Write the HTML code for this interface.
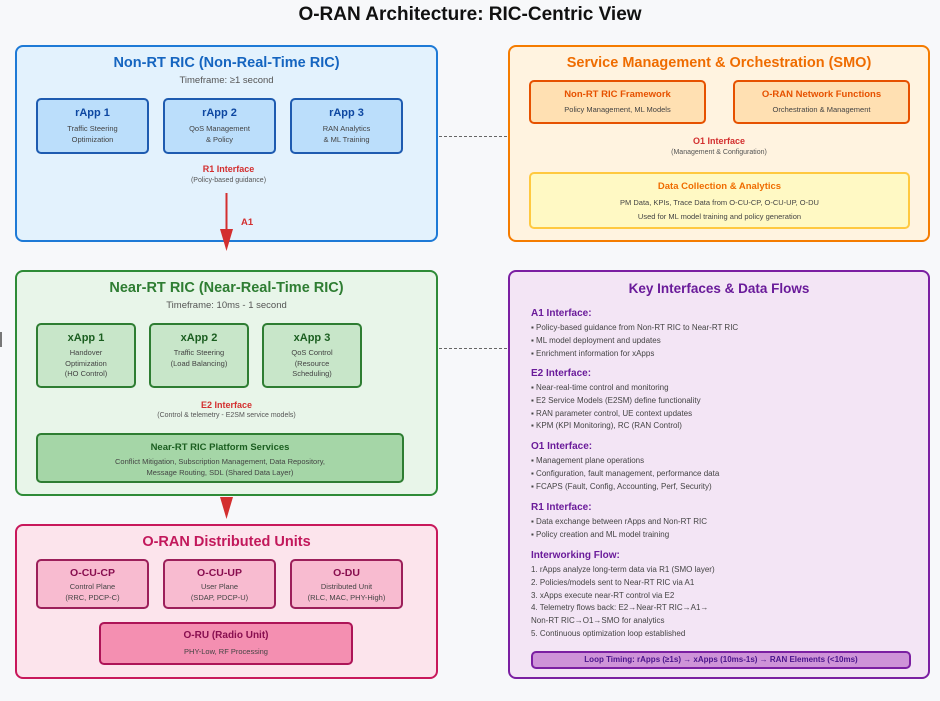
<!DOCTYPE html>
<html><head><meta charset="utf-8"><style>
*{margin:0;padding:0;box-sizing:border-box}
body{width:940px;height:701px;background:#f7f8fa;font-family:"Liberation Sans",sans-serif;position:relative;overflow:hidden}
.a{position:absolute}
.t{position:absolute;left:0;right:0;text-align:center;white-space:nowrap}
.box{position:absolute;border-radius:8px}
.sub{position:absolute;border-radius:5px}
.d{color:#444;font-size:7.5px;line-height:11px}
.h{font-weight:bold}
.kp{position:absolute;left:21px;font-size:8px;color:#444;white-space:nowrap}
.kh{position:absolute;left:21px;font-size:10px;font-weight:bold;color:#6a1b9a}
</style></head><body>
<div class="t h" style="top:4px;font-size:19px;color:#111">O-RAN Architecture: RIC-Centric View</div>

<!-- Non-RT RIC -->
<div class="box" style="left:15px;top:45px;width:423px;height:197px;background:#e3f2fd;border:2px solid #1e7ad6">
 <div class="t h" style="top:8px;font-size:14.5px;color:#1565c0">Non-RT RIC (Non-Real-Time RIC)</div>
 <div class="t" style="top:28px;font-size:9.5px;color:#555">Timeframe: ≥1 second</div>
 <div class="sub" style="left:19px;top:51px;width:113px;height:56px;background:#bbdefb;border:2px solid #1e5bb0"><div class="t h" style="top:7px;font-size:11px;color:#0d47a1">rApp 1</div><div class="t d" style="top:23px">Traffic Steering<br>Optimization</div></div>
 <div class="sub" style="left:146px;top:51px;width:113px;height:56px;background:#bbdefb;border:2px solid #1e5bb0"><div class="t h" style="top:7px;font-size:11px;color:#0d47a1">rApp 2</div><div class="t d" style="top:23px">QoS Management<br>&amp; Policy</div></div>
 <div class="sub" style="left:273px;top:51px;width:113px;height:56px;background:#bbdefb;border:2px solid #1e5bb0"><div class="t h" style="top:7px;font-size:11px;color:#0d47a1">rApp 3</div><div class="t d" style="top:23px">RAN Analytics<br>&amp; ML Training</div></div>
 <div class="a h" style="left:0;width:423px;top:117px;text-align:center;font-size:9px;color:#d32f2f">R1 Interface</div>
 <div class="a" style="left:0;width:423px;top:130px;text-align:center;font-size:7px;color:#555">(Policy-based guidance)</div>
</div>

<!-- SMO -->
<div class="box" style="left:508px;top:45px;width:422px;height:197px;background:#fff3e0;border:2px solid #f57c00">
 <div class="t h" style="top:8px;font-size:14.5px;color:#ef6c00">Service Management &amp; Orchestration (SMO)</div>
 <div class="sub" style="left:19px;top:33px;width:177px;height:44px;background:#ffe0b2;border:2px solid #e65100"><div class="t h" style="top:7px;font-size:9.5px;color:#e65100">Non-RT RIC Framework</div><div class="t d" style="top:22px">Policy Management, ML Models</div></div>
 <div class="sub" style="left:223px;top:33px;width:177px;height:44px;background:#ffe0b2;border:2px solid #e65100"><div class="t h" style="top:7px;font-size:9.5px;color:#e65100">O-RAN Network Functions</div><div class="t d" style="top:22px">Orchestration &amp; Management</div></div>
 <div class="t h" style="top:89px;font-size:9px;color:#d32f2f">O1 Interface</div>
 <div class="t" style="top:102px;font-size:7px;color:#555">(Management &amp; Configuration)</div>
 <div class="sub" style="left:19px;top:125px;width:381px;height:57px;background:#fff9c4;border:2px solid #ffc940"><div class="t h" style="top:7px;font-size:9.5px;color:#ef6c00">Data Collection &amp; Analytics</div><div class="t d" style="top:22px;line-height:14px">PM Data, KPIs, Trace Data from O-CU-CP, O-CU-UP, O-DU<br>Used for ML model training and policy generation</div></div>
</div>

<!-- dashed connectors -->
<div class="a" style="left:439px;top:136px;width:68px;border-top:1.5px dashed #666"></div>
<div class="a" style="left:439px;top:348px;width:68px;border-top:1.5px dashed #666"></div>
<div class="a" style="left:0;top:332px;width:2px;height:15px;background:#777"></div>

<!-- Near-RT RIC -->
<div class="box" style="left:15px;top:270px;width:423px;height:226px;background:#e8f5e9;border:2px solid #2e8b37">
 <div class="t h" style="top:8px;font-size:14.5px;color:#2e7d32">Near-RT RIC (Near-Real-Time RIC)</div>
 <div class="t" style="top:28px;font-size:9.5px;color:#555">Timeframe: 10ms - 1 second</div>
 <div class="sub" style="left:19px;top:51px;width:100px;height:65px;background:#c8e6c9;border:2px solid #2e7d32"><div class="t h" style="top:7px;font-size:11px;color:#1b5e20">xApp 1</div><div class="t d" style="top:23px;line-height:10.5px">Handover<br>Optimization<br>(HO Control)</div></div>
 <div class="sub" style="left:132px;top:51px;width:100px;height:65px;background:#c8e6c9;border:2px solid #2e7d32"><div class="t h" style="top:7px;font-size:11px;color:#1b5e20">xApp 2</div><div class="t d" style="top:23px;line-height:10.5px">Traffic Steering<br>(Load Balancing)</div></div>
 <div class="sub" style="left:245px;top:51px;width:100px;height:65px;background:#c8e6c9;border:2px solid #2e7d32"><div class="t h" style="top:7px;font-size:11px;color:#1b5e20">xApp 3</div><div class="t d" style="top:23px;line-height:10.5px">QoS Control<br>(Resource<br>Scheduling)</div></div>
 <div class="t h" style="top:128px;font-size:9px;color:#d32f2f">E2 Interface</div>
 <div class="t" style="top:140px;font-size:7px;color:#555">(Control &amp; telemetry - E2SM service models)</div>
 <div class="sub" style="left:19px;top:161px;width:368px;height:50px;background:#a5d6a7;border:2px solid #2e7d32"><div class="t h" style="top:7px;font-size:9.5px;color:#1b5e20">Near-RT RIC Platform Services</div><div class="t d" style="top:22px;line-height:10.5px">Conflict Mitigation, Subscription Management, Data Repository,<br>Message Routing, SDL (Shared Data Layer)</div></div>
</div>

<!-- arrows -->
<svg class="a" style="left:0;top:0" width="940" height="701">
 <line x1="226.5" y1="193" x2="226.5" y2="232" stroke="#d32f2f" stroke-width="2"/>
 <polygon points="220,229 233,229 226.5,251" fill="#d32f2f"/>
 <text x="241" y="225" font-family="Liberation Sans" font-weight="bold" font-size="9.5" fill="#d32f2f">A1</text>
 <polygon points="220,497 233,497 226.5,519" fill="#d32f2f"/>
</svg>

<!-- Distributed units -->
<div class="box" style="left:15px;top:524px;width:423px;height:155px;background:#fce4ec;border:2px solid #c8185b">
 <div class="t h" style="top:8px;font-size:14.5px;color:#c2185b">O-RAN Distributed Units</div>
 <div class="sub" style="left:19px;top:33px;width:113px;height:50px;background:#f8bbd0;border:2px solid #9c1f5a"><div class="t h" style="top:6px;font-size:10.5px;color:#880e4f">O-CU-CP</div><div class="t d" style="top:21px;line-height:10.5px">Control Plane<br>(RRC, PDCP-C)</div></div>
 <div class="sub" style="left:146px;top:33px;width:113px;height:50px;background:#f8bbd0;border:2px solid #9c1f5a"><div class="t h" style="top:6px;font-size:10.5px;color:#880e4f">O-CU-UP</div><div class="t d" style="top:21px;line-height:10.5px">User Plane<br>(SDAP, PDCP-U)</div></div>
 <div class="sub" style="left:273px;top:33px;width:113px;height:50px;background:#f8bbd0;border:2px solid #9c1f5a"><div class="t h" style="top:6px;font-size:10.5px;color:#880e4f">O-DU</div><div class="t d" style="top:21px;line-height:10.5px">Distributed Unit<br>(RLC, MAC, PHY-High)</div></div>
 <div class="sub" style="left:82px;top:96px;width:254px;height:43px;background:#f48fb1;border:2px solid #ad1457"><div class="t h" style="top:6px;font-size:10px;color:#880e4f">O-RU (Radio Unit)</div><div class="t d" style="top:22px">PHY-Low, RF Processing</div></div>
</div>

<!-- Key interfaces -->
<div class="box" style="left:508px;top:270px;width:422px;height:409px;background:#f3e5f5;border:2px solid #7b1fa2">
 <div class="t h" style="top:9px;font-size:13.5px;color:#6a1b9a">Key Interfaces &amp; Data Flows</div>
 <div class="kh" style="top:36px">A1 Interface:</div>
 <div class="kp" style="top:51px">▪ Policy-based guidance from Non-RT RIC to Near-RT RIC</div>
 <div class="kp" style="top:64px">▪ ML model deployment and updates</div>
 <div class="kp" style="top:77px">▪ Enrichment information for xApps</div>
 <div class="kh" style="top:96px">E2 Interface:</div>
 <div class="kp" style="top:111px">▪ Near-real-time control and monitoring</div>
 <div class="kp" style="top:124px">▪ E2 Service Models (E2SM) define functionality</div>
 <div class="kp" style="top:137px">▪ RAN parameter control, UE context updates</div>
 <div class="kp" style="top:149px">▪ KPM (KPI Monitoring), RC (RAN Control)</div>
 <div class="kh" style="top:169px">O1 Interface:</div>
 <div class="kp" style="top:184px">▪ Management plane operations</div>
 <div class="kp" style="top:197px">▪ Configuration, fault management, performance data</div>
 <div class="kp" style="top:210px">▪ FCAPS (Fault, Config, Accounting, Perf, Security)</div>
 <div class="kh" style="top:230px">R1 Interface:</div>
 <div class="kp" style="top:245px">▪ Data exchange between rApps and Non-RT RIC</div>
 <div class="kp" style="top:258px">▪ Policy creation and ML model training</div>
 <div class="kh" style="top:278px">Interworking Flow:</div>
 <div class="kp" style="top:293px">1. rApps analyze long-term data via R1 (SMO layer)</div>
 <div class="kp" style="top:306px">2. Policies/models sent to Near-RT RIC via A1</div>
 <div class="kp" style="top:319px">3. xApps execute near-RT control via E2</div>
 <div class="kp" style="top:331px">4. Telemetry flows back: E2→Near-RT RIC→A1→</div>
 <div class="kp" style="top:344px">Non-RT RIC→O1→SMO for analytics</div>
 <div class="kp" style="top:357px">5. Continuous optimization loop established</div>
 <div class="sub" style="left:21px;top:379px;width:380px;height:18px;background:#ce93d8;border:2px solid #7b1fa2"><div class="t h" style="top:2px;font-size:8px;color:#4a148c">Loop Timing: rApps (≥1s) → xApps (10ms-1s) → RAN Elements (&lt;10ms)</div></div>
</div>
</body></html>
